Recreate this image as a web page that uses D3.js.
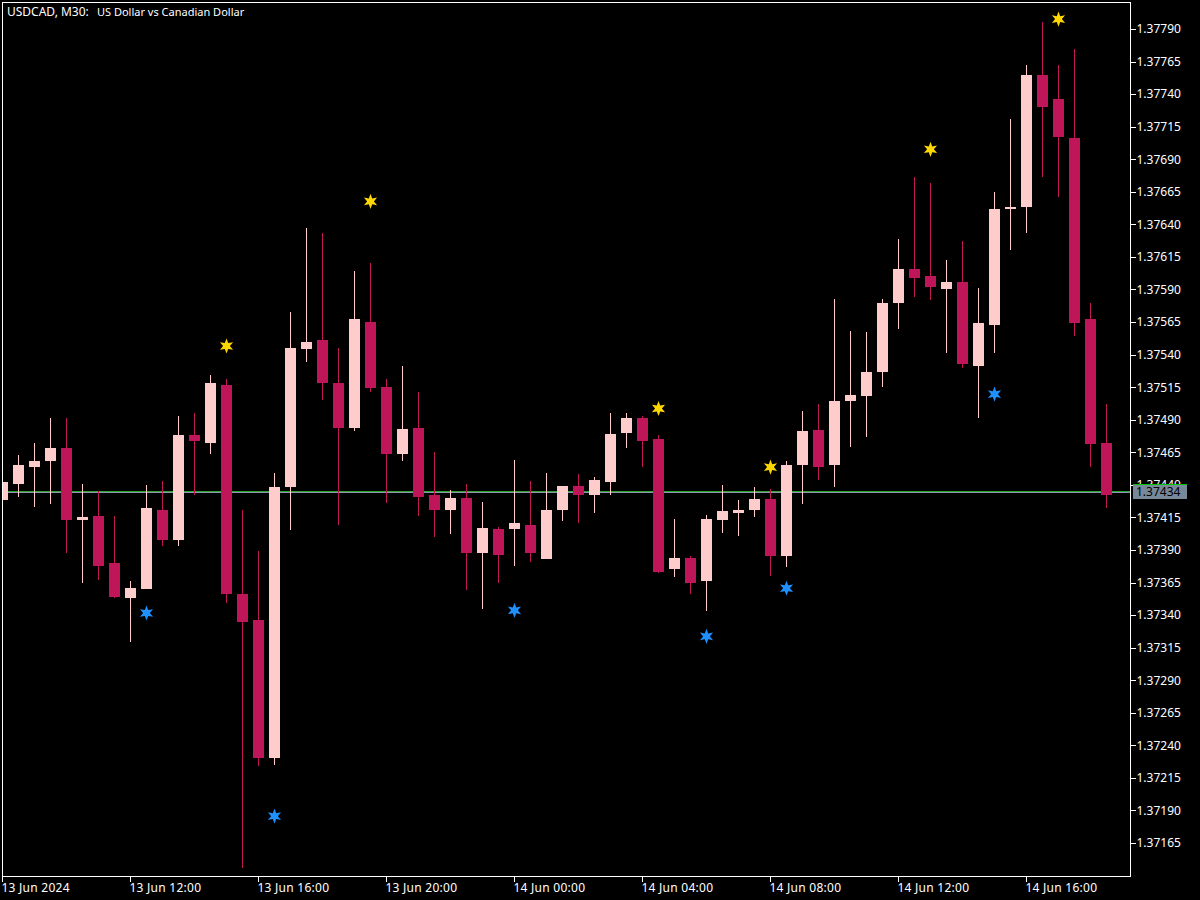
<!DOCTYPE html>
<html>
<head>
<meta charset="utf-8">
<title>USDCAD, M30</title>
<script src="https://cdn.jsdelivr.net/npm/d3@7"></script>
<style>
    html, body { margin: 0; padding: 0; background: #000; overflow: hidden; }
    svg { display: block; }
    text { font-family: "Noto Sans", sans-serif; font-size: 12px; fill: #fff; }
    .axis text { font-family: "Noto Sans", sans-serif; font-size: 12px; }
    .axis path, .axis line { stroke: #fff; shape-rendering: crispEdges; }
</style>
</head>
<body>
<div id="chart"></div>
<script>
// OHLC prices, one entry per M30 bar
const opens = [
    1.37428, 1.37441, 1.37454, 1.37458, 1.37468, 1.37413, 1.37416, 1.37380, 1.37353, 1.37360,
    1.37421, 1.37398, 1.37478, 1.37472, 1.37517, 1.37356, 1.37336, 1.37230, 1.37438, 1.37544,
    1.37551, 1.37518, 1.37484, 1.37565, 1.37515, 1.37464, 1.37484, 1.37432, 1.37421, 1.37430,
    1.37388, 1.37406, 1.37406, 1.37409, 1.37383, 1.37421, 1.37439, 1.37432, 1.37442, 1.37480,
    1.37491, 1.37475, 1.37375, 1.37384, 1.37366, 1.37413, 1.37418, 1.37421, 1.37429, 1.37385,
    1.37455, 1.37482, 1.37455, 1.37504, 1.37508, 1.37527, 1.37580, 1.37606, 1.37600, 1.37590,
    1.37596, 1.37531, 1.37563, 1.37652, 1.37653, 1.37755, 1.37736, 1.37706, 1.37567, 1.37472
];
const highs = [
    1.37442, 1.37463, 1.37472, 1.37491, 1.37491, 1.37441, 1.37435, 1.37416, 1.37366, 1.37440,
    1.37443, 1.37493, 1.37495, 1.37524, 1.37521, 1.37421, 1.37389, 1.37449, 1.37573, 1.37637,
    1.37633, 1.37545, 1.37604, 1.37610, 1.37521, 1.37531, 1.37511, 1.37465, 1.37436, 1.37441,
    1.37427, 1.37408, 1.37459, 1.37443, 1.37449, 1.37439, 1.37448, 1.37446, 1.37495, 1.37495,
    1.37493, 1.37478, 1.37414, 1.37385, 1.37417, 1.37440, 1.37428, 1.37438, 1.37437, 1.37458,
    1.37497, 1.37502, 1.37583, 1.37558, 1.37557, 1.37583, 1.37629, 1.37676, 1.37672, 1.37613,
    1.37627, 1.37591, 1.37665, 1.37721, 1.37762, 1.37795, 1.37762, 1.37775, 1.37580, 1.37502
];
const lows = [
    1.37428, 1.37431, 1.37423, 1.37425, 1.37388, 1.37365, 1.37367, 1.37353, 1.37319, 1.37360,
    1.37393, 1.37393, 1.37432, 1.37464, 1.37349, 1.37146, 1.37224, 1.37225, 1.37405, 1.37534,
    1.37505, 1.37409, 1.37481, 1.37511, 1.37426, 1.37458, 1.37416, 1.37400, 1.37402, 1.37359,
    1.37345, 1.37365, 1.37378, 1.37381, 1.37383, 1.37412, 1.37411, 1.37418, 1.37432, 1.37468,
    1.37454, 1.37372, 1.37369, 1.37356, 1.37343, 1.37403, 1.37401, 1.37415, 1.37370, 1.37377,
    1.37425, 1.37444, 1.37438, 1.37469, 1.37477, 1.37515, 1.37560, 1.37584, 1.37582, 1.37541,
    1.37530, 1.37491, 1.37541, 1.37620, 1.37633, 1.37676, 1.37661, 1.37554, 1.37454, 1.37422
];
const closes = [
    1.37442, 1.37455, 1.37458, 1.37468, 1.37413, 1.37415, 1.37378, 1.37354, 1.37361, 1.37422,
    1.37398, 1.37478, 1.37474, 1.37518, 1.37356, 1.37335, 1.37230, 1.37438, 1.37545, 1.37550,
    1.37518, 1.37484, 1.37567, 1.37514, 1.37464, 1.37483, 1.37431, 1.37421, 1.37430, 1.37388,
    1.37407, 1.37386, 1.37411, 1.37388, 1.37421, 1.37439, 1.37432, 1.37444, 1.37479, 1.37491,
    1.37474, 1.37373, 1.37384, 1.37365, 1.37414, 1.37420, 1.37421, 1.37429, 1.37385, 1.37455,
    1.37481, 1.37454, 1.37504, 1.37509, 1.37527, 1.37580, 1.37606, 1.37599, 1.37592, 1.37596,
    1.37533, 1.37564, 1.37652, 1.37653, 1.37755, 1.37730, 1.37707, 1.37564, 1.37471, 1.37432
];

// arrow markers: bar index and price
const sellBars = [14, 23, 41, 48, 58, 66];
const sellPrices = [1.37547, 1.37658, 1.37499, 1.37454, 1.37698, 1.37798];
const buyBars = [9, 17, 32, 44, 49, 62];
const buyPrices = [1.37342, 1.37186, 1.37344, 1.37324, 1.37361, 1.37510];

const priceTicks = [
    1.37790, 1.37765, 1.37740, 1.37715, 1.37690, 1.37665, 1.37640, 1.37615, 1.37590,
    1.37565, 1.37540, 1.37515, 1.37490, 1.37465, 1.37440, 1.37415, 1.37390, 1.37365,
    1.37340, 1.37315, 1.37290, 1.37265, 1.37240, 1.37215, 1.37190, 1.37165
];
const timeBars = [0, 8, 16, 24, 32, 40, 48, 56, 64];
const timeLabels = [
    "13 Jun 2024", "13 Jun 12:00", "13 Jun 16:00", "13 Jun 20:00", "14 Jun 00:00",
    "14 Jun 04:00", "14 Jun 08:00", "14 Jun 12:00", "14 Jun 16:00"
];
const bidPrice = 1.37434;
const symbolTitle = "USDCAD, M30:";
const symbolName = "US Dollar vs Canadian Dollar";

const width = 1200, height = 900;
const frame = { left: 2.5, top: 2.5, right: 1130.5, bottom: 876.5 };
const upColor = "#FFCCCC", downColor = "#BF1559";
const sellColor = "#FFD700", buyColor = "#1E90FF";

const x = d3.scaleLinear().domain([0, 69]).range([2, 1106]);
const y = d3.scaleLinear().domain([1.37790, 1.37165]).range([29, 843]);

const svg = d3.select("#chart").append("svg")
    .attr("width", width)
    .attr("height", height);

svg.append("rect")
    .attr("width", width)
    .attr("height", height)
    .attr("fill", "#000");

const plot = svg.append("g");

// bid line goes under the candles: a green row over a grey one
plot.append("rect")
    .attr("x", frame.left)
    .attr("y", Math.floor(y(bidPrice)) - 1)
    .attr("width", frame.right - frame.left)
    .attr("height", 1)
    .attr("fill", "#2FA32F");
plot.append("rect")
    .attr("x", frame.left)
    .attr("y", Math.floor(y(bidPrice)))
    .attr("width", frame.right - frame.left)
    .attr("height", 1)
    .attr("fill", "#8A98AA");

const bars = d3.range(opens.length);
const barColor = i => closes[i] >= opens[i] ? upColor : downColor;

// wicks
plot.append("g")
    .attr("shape-rendering", "crispEdges")
    .selectAll("rect")
    .data(bars)
    .join("rect")
    .attr("x", i => x(i))
    .attr("y", i => Math.round(y(highs[i])))
    .attr("width", 1)
    .attr("height", i => Math.round(y(lows[i])) - Math.round(y(highs[i])))
    .attr("fill", barColor);

// bodies
plot.append("g")
    .attr("shape-rendering", "crispEdges")
    .selectAll("rect")
    .data(bars)
    .join("rect")
    .attr("x", i => x(i) - 5)
    .attr("y", i => Math.round(y(Math.max(opens[i], closes[i]))))
    .attr("width", 11)
    .attr("height", i => Math.max(1, Math.round(y(Math.min(opens[i], closes[i]))) - Math.round(y(Math.max(opens[i], closes[i])))))
    .attr("fill", barColor);

// six pointed stars
const starPath = d3.lineRadial()
    .angle((d, i) => i * Math.PI / 6)
    .radius((d, i) => i % 2 ? 3.4 : 7.6)
    .curve(d3.curveLinearClosed)(d3.range(12));

function drawStars(barList, priceList, color) {
    plot.append("g")
        .selectAll("path")
        .data(barList)
        .join("path")
        .attr("d", starPath)
        .attr("transform", (d, i) => `translate(${x(d) + 0.5},${y(priceList[i]) + 0.5})`)
        .attr("fill", color);
}
drawStars(sellBars, sellPrices, sellColor);
drawStars(buyBars, buyPrices, buyColor);

// black out whatever sits outside the frame on the left
svg.append("rect").attr("x", 0).attr("y", 0).attr("width", 2).attr("height", height).attr("fill", "#000");

// frame
svg.append("rect")
    .attr("x", frame.left)
    .attr("y", frame.top)
    .attr("width", frame.right - frame.left)
    .attr("height", frame.bottom - frame.top)
    .attr("fill", "none")
    .attr("stroke", "#fff")
    .attr("shape-rendering", "crispEdges");

// price axis
const priceAxis = d3.axisRight(y)
    .tickValues(priceTicks)
    .tickFormat(d3.format(".5f"))
    .tickSize(5)
    .tickPadding(1);
const priceGroup = svg.append("g")
    .attr("class", "axis")
    .attr("transform", `translate(${frame.right},0)`)
    .call(priceAxis);
priceGroup.select(".domain").remove();

// time axis
const timeAxis = d3.axisBottom(x)
    .tickValues(timeBars)
    .tickFormat((d, i) => timeLabels[i])
    .tickSize(5)
    .tickPadding(2);
const timeGroup = svg.append("g")
    .attr("class", "axis")
    .attr("transform", `translate(0,${frame.bottom})`)
    .call(timeAxis);
timeGroup.select(".domain").remove();
timeGroup.selectAll("text")
    .attr("text-anchor", "start")
    .attr("x", -1)
    .style("letter-spacing", "0.25px");

// bid price tag
const tag = svg.append("g");
tag.append("rect")
    .attr("x", 1133)
    .attr("y", 484)
    .attr("width", 54)
    .attr("height", 15)
    .attr("fill", "#778899");
tag.append("rect")
    .attr("x", 1133)
    .attr("y", 484)
    .attr("width", 54)
    .attr("height", 1)
    .attr("fill", "#00C800");
tag.append("text")
    .attr("x", 1136)
    .attr("y", 496)
    .style("fill", "#000")
    .text(d3.format(".5f")(bidPrice));

const title = svg.append("text").attr("y", 16);
title.append("tspan").attr("x", 7).text(symbolTitle);
title.append("tspan").attr("x", 97).style("font-size", "11px").text(symbolName);
</script>
</body>
</html>
